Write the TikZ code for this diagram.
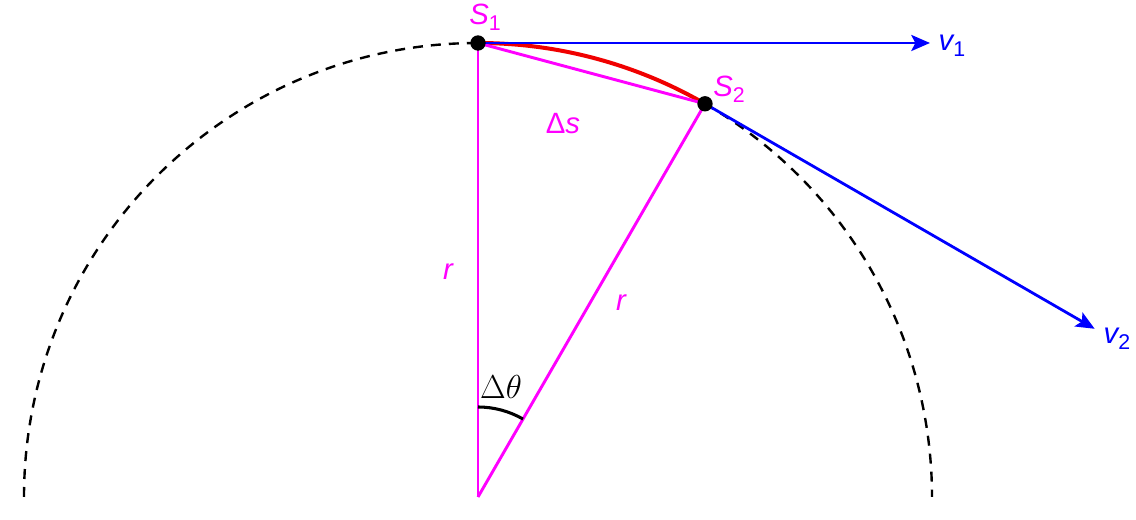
\documentclass[tikz,border=0pt]{standalone}
\usepackage[no-math]{fontspec}
\setmainfont{Liberation Sans}
\usetikzlibrary{arrows.meta}
\definecolor{mag}{RGB}{255,0,255}
\definecolor{vblue}{RGB}{0,0,255}
\definecolor{arcred}{RGB}{240,0,0}
\newcommand{\mysub}[1]{\raisebox{-0.22em}{\upshape\fontsize{16}{18}\selectfont #1}}
\begin{document}
\begin{tikzpicture}[x=0.75pt,y=0.75pt,
  radline/.style={mag,line width=2.2pt},
  vec/.style={vblue,line width=2.1pt,-{Stealth[length=14pt,width=12pt,inset=3pt]}},
  darc/.style={black,line width=1.8pt,dash pattern=on 7.5pt off 6pt},
  redarc/.style={arcred,line width=3pt},
  dot/.style={circle,fill=black,inner sep=0pt,minimum size=11.5pt},
  lab/.style={font=\fontsize{22}{26}\selectfont\itshape,inner sep=0pt},
  maglab/.style={lab,text=mag},
  bluelab/.style={lab,text=vblue}]
\useasboundingbox (0,0) rectangle (1136,520);
\coordinate (C) at (478,23);
\coordinate (P1) at (478,477);
\coordinate (P2) at (705,416.2);
\coordinate (v1end) at (930,477);
\coordinate (v2end) at (1094.7,191.2);
% dashed circle parts
\draw[darc] (C) ++(180:454) arc[start angle=180,end angle=90,radius=454];
\draw[darc] (C) ++(60:454) arc[start angle=60,end angle=0,radius=454];
% red arc
\draw[redarc] (C) ++(90:454) arc[start angle=90,end angle=60,radius=454];
% radii and chord
\draw[radline] (C) -- (P1);
\draw[radline] (C) -- (P2);
\draw[radline] (P1) -- (P2);
% angle
\draw[black,line width=2.3pt] (C) ++(90:90) arc[start angle=90,end angle=60,radius=90];
% velocity vectors
\draw[vec] (P1) -- (v1end);
\draw[vec] (P2) -- (v2end);
% dots
\node[dot] (s1) at (P1) {};
\node[dot] (s2) at (P2) {};
% labels
\node[maglab] (ls1) at (485,503) {S\mysub{1}};
\node[maglab] (ls2) at (729,431) {S\mysub{2}};
\node[bluelab] (lv1) at (952,474) {v\mysub{1}};
\node[bluelab] (lv2) at (1117,181) {v\mysub{2}};
\node[maglab] (lds) at (563,396) {{\upshape Δ}s};
\node[maglab] (lr1) at (448,248) {r};
\node[maglab] (lr2) at (621,217) {r};
\node[inner sep=0pt,font=\fontsize{24}{28}\selectfont] (lth) at (501,133) {$\Delta\theta$};
\end{tikzpicture}
\end{document}
